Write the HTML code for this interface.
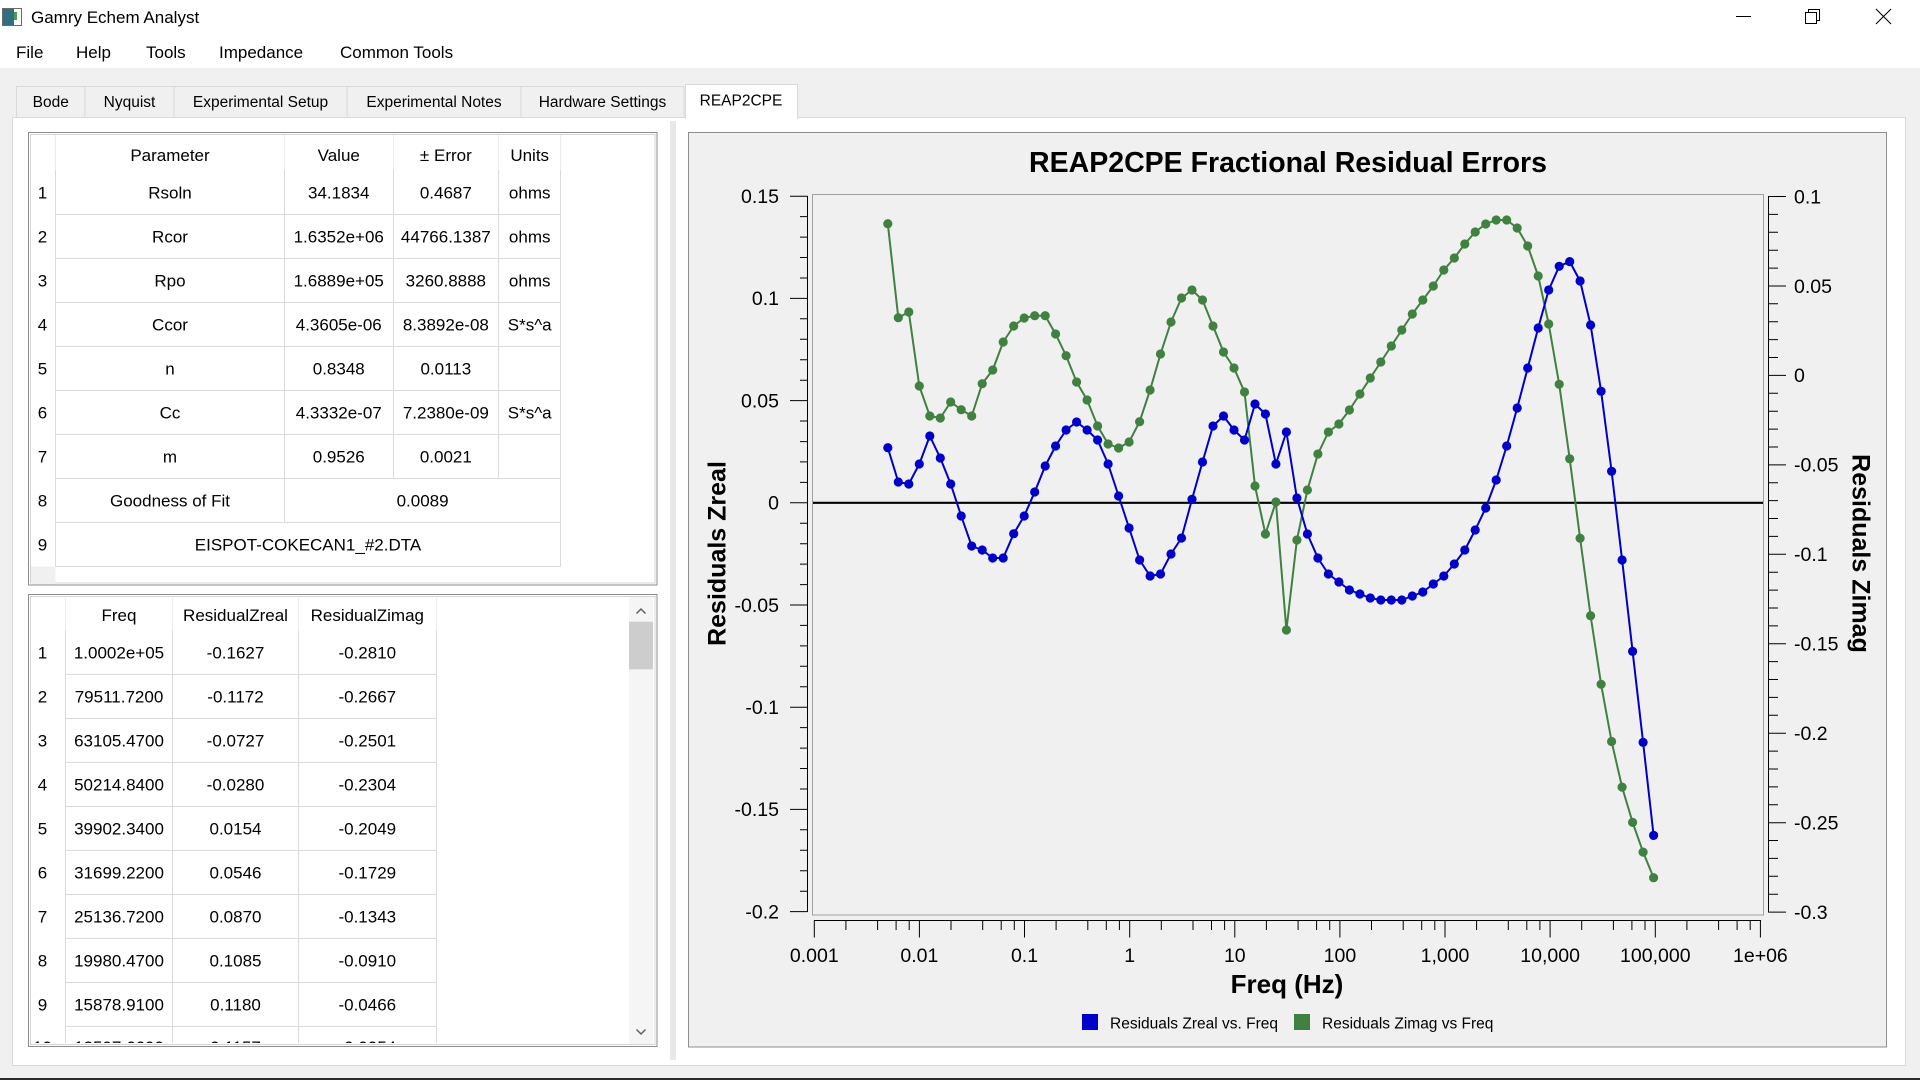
<!DOCTYPE html>
<html>
<head>
<meta charset="utf-8">
<style>
html,body{margin:0;padding:0;background:#f0f0f0;}
svg{display:block;}
text{font-family:"Liberation Sans",Arial,sans-serif;}
</style>
</head>
<body>
<svg width="1920" height="1080" viewBox="0 0 1920 1080" xmlns="http://www.w3.org/2000/svg">
<defs>
  <marker id="mb" viewBox="0 0 10 10" refX="5" refY="5" markerWidth="10" markerHeight="10" markerUnits="userSpaceOnUse"><circle cx="5" cy="5" r="4.6" fill="#0000c8"/></marker>
  <marker id="mg" viewBox="0 0 10 10" refX="5" refY="5" markerWidth="10" markerHeight="10" markerUnits="userSpaceOnUse"><circle cx="5" cy="5" r="4.6" fill="#408040"/></marker>
  <clipPath id="t2clip"><rect x="30" y="597" width="598" height="446"/></clipPath>
</defs>

<!-- background -->
<rect x="0" y="0" width="1920" height="1080" fill="#f0f0f0"/>
<rect x="0" y="0" width="1920" height="68" fill="#ffffff"/>

<!-- title bar -->
<rect x="2.5" y="8.5" width="19" height="17" fill="#ffffff" stroke="#6a6a6a"/>
<rect x="3" y="9" width="11" height="16" fill="#2f6f80"/>
<rect x="14" y="12" width="3" height="8" fill="#4a9a5a"/>
<text x="31" y="23" font-size="17" fill="#000">Gamry Echem Analyst</text>
<line x1="1736" y1="16.5" x2="1751" y2="16.5" stroke="#000" stroke-width="1"/>
<rect x="1805.5" y="12.5" width="11" height="11" fill="none" stroke="#000"/>
<polyline points="1808.5,12.5 1808.5,9.5 1819.5,9.5 1819.5,20.5 1816.5,20.5" fill="none" stroke="#000"/>
<line x1="1876" y1="9" x2="1891" y2="24" stroke="#000" stroke-width="1.1"/>
<line x1="1891" y1="9" x2="1876" y2="24" stroke="#000" stroke-width="1.1"/>

<!-- menu -->
<g font-size="17" fill="#000">
<text x="16" y="58">File</text>
<text x="76" y="58">Help</text>
<text x="146" y="58">Tools</text>
<text x="219" y="58">Impedance</text>
<text x="340" y="58">Common Tools</text>
</g>

<!-- panel -->
<rect x="12.5" y="117.5" width="1893" height="948" fill="#ffffff" stroke="#d9d9d9"/>

<!-- tabs -->
<g fill="#f0f0f0" stroke="#d9d9d9">
<rect x="16.5" y="86.5" width="68.5" height="31"/>
<rect x="85" y="86.5" width="89" height="31"/>
<rect x="174" y="86.5" width="173" height="31"/>
<rect x="347" y="86.5" width="174" height="31"/>
<rect x="521" y="86.5" width="163" height="31"/>
</g>
<rect x="685.5" y="84.5" width="112" height="34" fill="#ffffff" stroke="#d9d9d9"/>
<rect x="686" y="116" width="111" height="4" fill="#ffffff"/>
<g font-size="15.5" fill="#000" text-anchor="middle">
<text x="50.75" y="107">Bode</text>
<text x="129.5" y="107">Nyquist</text>
<text x="260.5" y="107">Experimental Setup</text>
<text x="434" y="107">Experimental Notes</text>
<text x="602.5" y="107">Hardware Settings</text>
<text x="741" y="105.5">REAP2CPE</text>
</g>

<!-- splitter -->
<rect x="670" y="121" width="6" height="939" fill="#e8e8e8"/>

<!-- ===== TOP TABLE ===== -->
<rect x="28.5" y="132.5" width="628.5" height="452.5" fill="#ffffff" stroke="#8c8c8c"/>
<rect x="30.5" y="134.5" width="624.5" height="448.5" fill="none" stroke="#d4d4d4"/>
<rect x="31" y="566.5" width="24.5" height="18" fill="#f0f0f0"/>
<g stroke="#dadada" stroke-width="1">
<line x1="55.5" y1="214.5" x2="560.5" y2="214.5"/>
<line x1="55.5" y1="258.5" x2="560.5" y2="258.5"/>
<line x1="55.5" y1="302.5" x2="560.5" y2="302.5"/>
<line x1="55.5" y1="346.5" x2="560.5" y2="346.5"/>
<line x1="55.5" y1="390.5" x2="560.5" y2="390.5"/>
<line x1="55.5" y1="434.5" x2="560.5" y2="434.5"/>
<line x1="55.5" y1="478.5" x2="560.5" y2="478.5"/>
<line x1="55.5" y1="522.5" x2="560.5" y2="522.5"/>
<line x1="55.5" y1="566.5" x2="560.5" y2="566.5"/>
<line x1="55.5" y1="170" x2="55.5" y2="566.5"/>
<line x1="284.5" y1="170" x2="284.5" y2="522.5"/>
<line x1="393.5" y1="170" x2="393.5" y2="478.5"/>
<line x1="498.5" y1="170" x2="498.5" y2="478.5"/>
<line x1="560.5" y1="170" x2="560.5" y2="566.5"/>
</g>
<g stroke="#ececec" stroke-width="1">
<line x1="55.5" y1="135" x2="55.5" y2="170"/>
<line x1="284.5" y1="135" x2="284.5" y2="170"/>
<line x1="393.5" y1="135" x2="393.5" y2="170"/>
<line x1="498.5" y1="135" x2="498.5" y2="170"/>
<line x1="560.5" y1="135" x2="560.5" y2="170"/>
</g>
<g font-size="17" fill="#000" text-anchor="middle">
<text x="170" y="161">Parameter</text>
<text x="338.75" y="161">Value</text>
<text x="445.85" y="161">± Error</text>
<text x="529.7" y="161">Units</text>

<text x="42.5" y="198.3">1</text>
<text x="42.5" y="242.3">2</text>
<text x="42.5" y="286.3">3</text>
<text x="42.5" y="330.3">4</text>
<text x="42.5" y="374.3">5</text>
<text x="42.5" y="418.3">6</text>
<text x="42.5" y="462.3">7</text>
<text x="42.5" y="506.3">8</text>
<text x="42.5" y="550.3">9</text>

<text x="170" y="198.3">Rsoln</text><text x="338.75" y="198.3">34.1834</text><text x="445.85" y="198.3">0.4687</text><text x="529.7" y="198.3">ohms</text>
<text x="170" y="242.3">Rcor</text><text x="338.75" y="242.3">1.6352e+06</text><text x="445.85" y="242.3">44766.1387</text><text x="529.7" y="242.3">ohms</text>
<text x="170" y="286.3">Rpo</text><text x="338.75" y="286.3">1.6889e+05</text><text x="445.85" y="286.3">3260.8888</text><text x="529.7" y="286.3">ohms</text>
<text x="170" y="330.3">Ccor</text><text x="338.75" y="330.3">4.3605e-06</text><text x="445.85" y="330.3">8.3892e-08</text><text x="529.7" y="330.3">S*s^a</text>
<text x="170" y="374.3">n</text><text x="338.75" y="374.3">0.8348</text><text x="445.85" y="374.3">0.0113</text>
<text x="170" y="418.3">Cc</text><text x="338.75" y="418.3">4.3332e-07</text><text x="445.85" y="418.3">7.2380e-09</text><text x="529.7" y="418.3">S*s^a</text>
<text x="170" y="462.3">m</text><text x="338.75" y="462.3">0.9526</text><text x="445.85" y="462.3">0.0021</text>
<text x="170" y="506.3">Goodness of Fit</text><text x="422.6" y="506.3">0.0089</text>
<text x="308" y="550.3">EISPOT-COKECAN1_#2.DTA</text>
</g>

<!-- ===== BOTTOM TABLE ===== -->
<rect x="28.5" y="594.5" width="628.5" height="452" fill="#ffffff" stroke="#8c8c8c"/>
<rect x="30.5" y="596.5" width="624.5" height="448" fill="none" stroke="#d4d4d4"/>
<g stroke="#dadada" stroke-width="1">
<line x1="65.5" y1="674.5" x2="436.5" y2="674.5"/>
<line x1="65.5" y1="718.5" x2="436.5" y2="718.5"/>
<line x1="65.5" y1="762.5" x2="436.5" y2="762.5"/>
<line x1="65.5" y1="806.5" x2="436.5" y2="806.5"/>
<line x1="65.5" y1="850.5" x2="436.5" y2="850.5"/>
<line x1="65.5" y1="894.5" x2="436.5" y2="894.5"/>
<line x1="65.5" y1="938.5" x2="436.5" y2="938.5"/>
<line x1="65.5" y1="982.5" x2="436.5" y2="982.5"/>
<line x1="65.5" y1="1026.5" x2="436.5" y2="1026.5"/>
<line x1="65.5" y1="631" x2="65.5" y2="1043"/>
<line x1="172.5" y1="631" x2="172.5" y2="1043"/>
<line x1="298.5" y1="631" x2="298.5" y2="1043"/>
<line x1="436.5" y1="631" x2="436.5" y2="1043"/>
</g>
<g stroke="#ececec" stroke-width="1">
<line x1="65.5" y1="598" x2="65.5" y2="631"/>
<line x1="172.5" y1="598" x2="172.5" y2="631"/>
<line x1="298.5" y1="598" x2="298.5" y2="631"/>
<line x1="436.5" y1="598" x2="436.5" y2="631"/>
</g>
<g font-size="17" fill="#000" text-anchor="middle" clip-path="url(#t2clip)">
<text x="119" y="621">Freq</text>
<text x="235.5" y="621">ResidualZreal</text>
<text x="367.3" y="621">ResidualZimag</text>

<text x="42.5" y="658.3">1</text><text x="119" y="658.3">1.0002e+05</text><text x="235.5" y="658.3">-0.1627</text><text x="367.3" y="658.3">-0.2810</text>
<text x="42.5" y="702.3">2</text><text x="119" y="702.3">79511.7200</text><text x="235.5" y="702.3">-0.1172</text><text x="367.3" y="702.3">-0.2667</text>
<text x="42.5" y="746.3">3</text><text x="119" y="746.3">63105.4700</text><text x="235.5" y="746.3">-0.0727</text><text x="367.3" y="746.3">-0.2501</text>
<text x="42.5" y="790.3">4</text><text x="119" y="790.3">50214.8400</text><text x="235.5" y="790.3">-0.0280</text><text x="367.3" y="790.3">-0.2304</text>
<text x="42.5" y="834.3">5</text><text x="119" y="834.3">39902.3400</text><text x="235.5" y="834.3">0.0154</text><text x="367.3" y="834.3">-0.2049</text>
<text x="42.5" y="878.3">6</text><text x="119" y="878.3">31699.2200</text><text x="235.5" y="878.3">0.0546</text><text x="367.3" y="878.3">-0.1729</text>
<text x="42.5" y="922.3">7</text><text x="119" y="922.3">25136.7200</text><text x="235.5" y="922.3">0.0870</text><text x="367.3" y="922.3">-0.1343</text>
<text x="42.5" y="966.3">8</text><text x="119" y="966.3">19980.4700</text><text x="235.5" y="966.3">0.1085</text><text x="367.3" y="966.3">-0.0910</text>
<text x="42.5" y="1010.3">9</text><text x="119" y="1010.3">15878.9100</text><text x="235.5" y="1010.3">0.1180</text><text x="367.3" y="1010.3">-0.0466</text>
<text x="42.5" y="1053">10</text><text x="119" y="1053">12597.6600</text><text x="235.5" y="1053">0.1157</text><text x="367.3" y="1053">-0.0054</text>
</g>
<!-- scrollbar -->
<rect x="629" y="597" width="24" height="447" fill="#f5f5f5"/>
<rect x="629" y="621.7" width="24" height="47.6" fill="#cdcdcd"/>
<polyline points="636.5,613.5 641,609 645.5,613.5" fill="none" stroke="#606060" stroke-width="1.5"/>
<polyline points="636.5,1029.5 641,1034 645.5,1029.5" fill="none" stroke="#606060" stroke-width="1.5"/>

<!-- ===== CHART ===== -->
<rect x="688.5" y="132.5" width="1198" height="914.5" fill="#f0f0f0" stroke="#8e8e8e"/>
<text x="1288" y="172" font-size="28.5" font-weight="bold" text-anchor="middle" fill="#000">REAP2CPE Fractional Residual Errors</text>

<!-- plot area -->
<rect x="812.5" y="194.5" width="951" height="720.5" fill="#f0f0f0" stroke="#a0a0a0"/>
<line x1="813" y1="502.8" x2="1763" y2="502.8" stroke="#000" stroke-width="2.2"/>

<!-- left axis -->
<g stroke="#000" stroke-width="1" fill="none">
<line x1="807.5" y1="196" x2="807.5" y2="912"/>
<path d="M790 196.2H807.5M790 298.4H807.5M790 400.6H807.5M790 502.8H807.5M790 605H807.5M790 707.2H807.5M790 809.4H807.5M790 911.6H807.5"/>
<path d="M800 216.6H807.5M800 237.1H807.5M800 257.5H807.5M800 278H807.5M800 318.8H807.5M800 339.3H807.5M800 359.7H807.5M800 380.2H807.5M800 421H807.5M800 441.6H807.5M800 461.9H807.5M800 482.4H807.5M800 523.2H807.5M800 543.7H807.5M800 564.1H807.5M800 584.6H807.5M800 625.4H807.5M800 645.9H807.5M800 666.3H807.5M800 686.8H807.5M800 727.6H807.5M800 748.1H807.5M800 768.5H807.5M800 789H807.5M800 829.8H807.5M800 850.3H807.5M800 870.7H807.5M800 891.2H807.5"/>
</g>
<g font-size="19.5" fill="#000" text-anchor="end">
<text x="779" y="203">0.15</text>
<text x="779" y="305.2">0.1</text>
<text x="779" y="407.4">0.05</text>
<text x="779" y="509.6">0</text>
<text x="779" y="611.8">-0.05</text>
<text x="779" y="714">-0.1</text>
<text x="779" y="816.2">-0.15</text>
<text x="779" y="918.4">-0.2</text>
</g>
<text transform="translate(725.5,553.5) rotate(-90)" font-size="25" font-weight="bold" text-anchor="middle" fill="#000">Residuals Zreal</text>

<!-- right axis -->
<g stroke="#000" stroke-width="1" fill="none">
<line x1="1768.5" y1="196" x2="1768.5" y2="912.5"/>
<path d="M1768.5 196.5H1786M1768.5 286H1786M1768.5 375.4H1786M1768.5 464.9H1786M1768.5 554.3H1786M1768.5 643.8H1786M1768.5 733.2H1786M1768.5 822.7H1786M1768.5 912.1H1786"/>
<path d="M1768.5 214.4H1778M1768.5 232.3H1778M1768.5 250.2H1778M1768.5 268.1H1778M1768.5 303.8H1778M1768.5 321.7H1778M1768.5 339.6H1778M1768.5 357.5H1778M1768.5 393.3H1778M1768.5 411.2H1778M1768.5 429.1H1778M1768.5 447H1778M1768.5 482.7H1778M1768.5 500.6H1778M1768.5 518.5H1778M1768.5 536.4H1778M1768.5 572.2H1778M1768.5 590.1H1778M1768.5 608H1778M1768.5 625.9H1778M1768.5 661.6H1778M1768.5 679.5H1778M1768.5 697.4H1778M1768.5 715.3H1778M1768.5 751.1H1778M1768.5 769H1778M1768.5 786.9H1778M1768.5 804.8H1778M1768.5 840.5H1778M1768.5 858.4H1778M1768.5 876.3H1778M1768.5 894.2H1778"/>
</g>
<g font-size="19.5" fill="#000" text-anchor="start">
<text x="1794" y="203.3">0.1</text>
<text x="1794" y="292.8">0.05</text>
<text x="1794" y="382.2">0</text>
<text x="1794" y="471.7">-0.05</text>
<text x="1794" y="561.1">-0.1</text>
<text x="1794" y="650.6">-0.15</text>
<text x="1794" y="740">-0.2</text>
<text x="1794" y="829.5">-0.25</text>
<text x="1794" y="918.9">-0.3</text>
</g>
<text transform="translate(1852.5,553.5) rotate(90)" font-size="25" font-weight="bold" text-anchor="middle" fill="#000">Residuals Zimag</text>

<!-- bottom axis -->
<g stroke="#000" stroke-width="1" fill="none">
<line x1="814" y1="920.5" x2="1761" y2="920.5"/>
<path d="M814.3 920.5V937.5M919.4 920.5V937.5M1024.5 920.5V937.5M1129.7 920.5V937.5M1234.8 920.5V937.5M1339.9 920.5V937.5M1445 920.5V937.5M1550.1 920.5V937.5M1655.3 920.5V937.5M1760.4 920.5V937.5"/>
<path d="M845.9 920.5V930M877.6 920.5V930M896.1 920.5V930M909.2 920.5V930M951 920.5V930M982.7 920.5V930M1001.2 920.5V930M1014.3 920.5V930M1056.1 920.5V930M1087.8 920.5V930M1106.3 920.5V930M1119.4 920.5V930M1161.3 920.5V930M1193 920.5V930M1211.5 920.5V930M1224.6 920.5V930M1266.4 920.5V930M1298.1 920.5V930M1316.6 920.5V930M1329.7 920.5V930M1371.5 920.5V930M1403.2 920.5V930M1421.7 920.5V930M1434.8 920.5V930M1476.6 920.5V930M1508.3 920.5V930M1526.8 920.5V930M1539.9 920.5V930M1581.7 920.5V930M1613.4 920.5V930M1631.9 920.5V930M1645 920.5V930M1686.9 920.5V930M1718.6 920.5V930M1737.1 920.5V930M1750.2 920.5V930"/>
</g>
<g font-size="19.5" fill="#000" text-anchor="middle">
<text x="814.3" y="962">0.001</text>
<text x="919.4" y="962">0.01</text>
<text x="1024.5" y="962">0.1</text>
<text x="1129.7" y="962">1</text>
<text x="1234.8" y="962">10</text>
<text x="1339.9" y="962">100</text>
<text x="1445" y="962">1,000</text>
<text x="1550.1" y="962">10,000</text>
<text x="1655.3" y="962">100,000</text>
<text x="1760.4" y="962">1e+06</text>
</g>
<text x="1287" y="993" font-size="26" font-weight="bold" text-anchor="middle" fill="#000">Freq (Hz)</text>

<!-- series -->
<polyline fill="none" stroke="#408040" stroke-width="2" stroke-linejoin="round" marker-start="url(#mg)" marker-mid="url(#mg)" marker-end="url(#mg)" points="887.8,223.7 898.3,317.7 908.8,312 919.3,386 929.8,416 940.3,418 950.7,402 961.2,409.7 971.7,416 982.2,383.7 992.7,370 1003.2,342 1013.7,326 1024.2,318 1034.7,315.7 1045.2,315.7 1055.6,334 1066.1,355.7 1076.6,382 1087.1,400 1097.6,426 1108.1,444 1118.6,448 1129.1,442 1139.6,421.7 1150.1,390 1160.5,354 1171,322 1181.5,298 1192,290 1202.5,300 1213,326 1223.5,352 1234,368 1244.5,392 1255,486 1265.4,534 1275.9,502 1286.4,630 1296.9,540 1307.4,490 1317.9,454 1328.4,432 1338.9,424 1349.4,410 1359.9,394 1370.3,378 1380.8,362 1391.3,346 1401.8,330 1412.3,314 1422.8,300 1433.3,286 1443.8,270 1454.3,258 1464.8,244 1475.2,232 1485.7,224 1496.2,220 1506.7,220 1517.2,228 1527.7,246 1538.2,276 1548.7,324 1559.2,384.3 1569.7,458.8 1580.1,538.2 1590.6,615.7 1601.1,684.3 1611.6,741.5 1622.1,787.1 1632.6,822.4 1643.1,852.1 1653.6,877.7"/>
<polyline fill="none" stroke="#0000c8" stroke-width="2" stroke-linejoin="round" marker-start="url(#mb)" marker-mid="url(#mb)" marker-end="url(#mb)" points="887.8,447.7 898.3,482 908.8,484 919.3,464 929.8,436 940.3,458 950.7,484 961.2,516 971.7,546 982.2,550 992.7,558 1003.2,558 1013.7,533.7 1024.2,516 1034.7,492 1045.2,466 1055.6,446 1066.1,430 1076.6,422 1087.1,430 1097.6,440 1108.1,464 1118.6,496 1129.1,528 1139.6,560 1150.1,576 1160.5,574 1171,554 1181.5,538 1192,499.3 1202.5,462 1213,426 1223.5,416 1234,430 1244.5,440 1255,404 1265.4,414 1275.9,464 1286.4,432 1296.9,498 1307.4,534 1317.9,558 1328.4,574 1338.9,582 1349.4,590 1359.9,594 1370.3,598 1380.8,600 1391.3,600 1401.8,600 1412.3,596 1422.8,592 1433.3,584 1443.8,576 1454.3,564 1464.8,550 1475.2,530 1485.7,508 1496.2,480 1506.7,446 1517.2,408 1527.7,368 1538.2,328 1548.7,290 1559.2,266.3 1569.7,261.6 1580.1,281 1590.6,325 1601.1,391.2 1611.6,471.3 1622.1,560 1632.6,651.4 1643.1,742.4 1653.6,835.4"/>

<!-- legend -->
<rect x="1082" y="1014" width="16" height="16" fill="#0000c8"/>
<text x="1110" y="1028.5" font-size="15.5" fill="#000">Residuals Zreal vs. Freq</text>
<rect x="1294" y="1014" width="16" height="16" fill="#408040"/>
<text x="1322" y="1028.5" font-size="15.5" fill="#000">Residuals Zimag vs Freq</text>

<!-- bottom edge -->
<rect x="0" y="1078" width="1920" height="2" fill="#2b2b2b"/>
</svg>
</body>
</html>
